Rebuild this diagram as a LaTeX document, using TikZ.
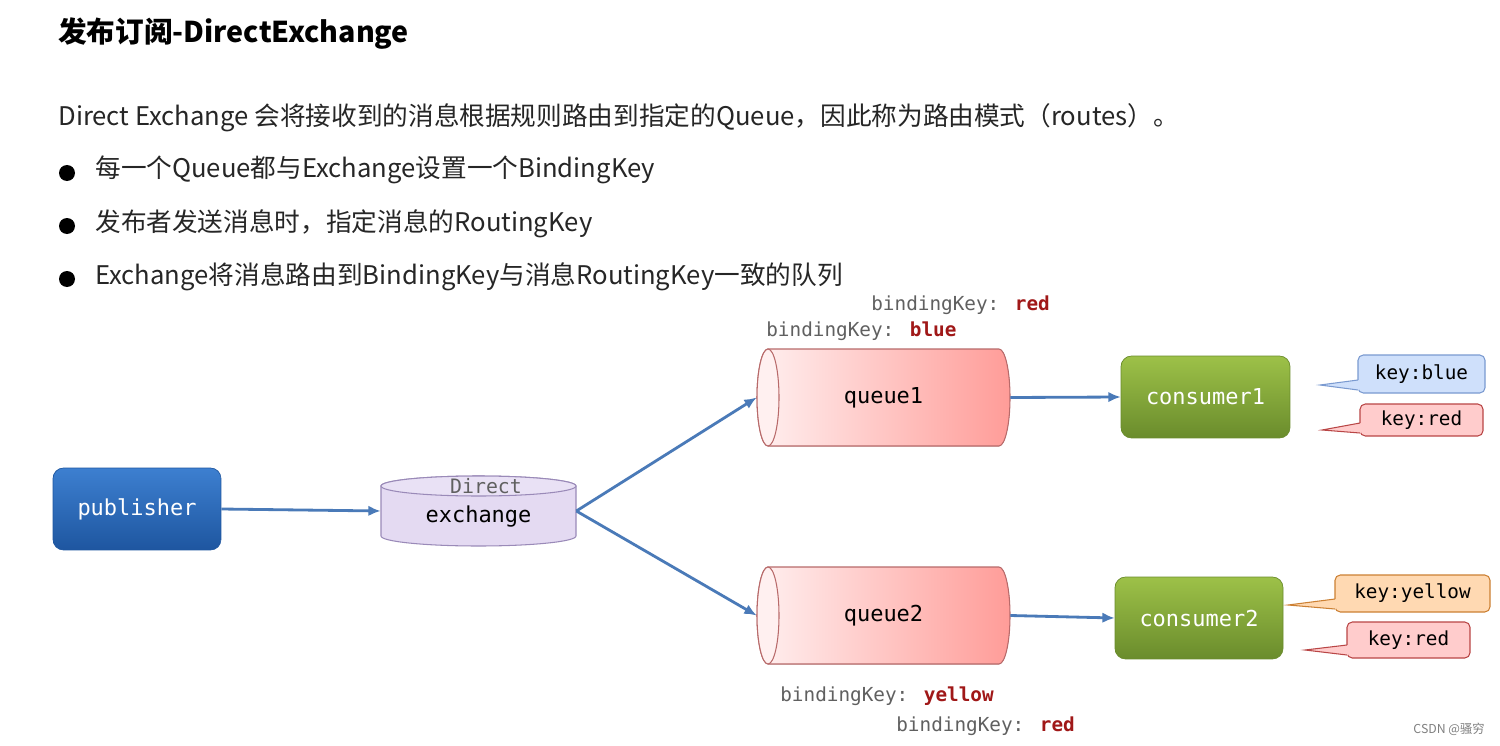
\documentclass[tikz,border=0pt]{standalone}
\usepackage{fontspec}
\setmainfont{Noto Sans CJK SC}
\newfontfamily\monofont{DejaVu Sans Mono}
\usetikzlibrary{arrows.meta}
\definecolor{arrowblue}{HTML}{4A7AB8}
\definecolor{keyred}{HTML}{A01818}
\definecolor{keygray}{HTML}{606060}
\definecolor{pubtop}{HTML}{3D7FD0}
\definecolor{pubbot}{HTML}{1E56A0}
\definecolor{contop}{HTML}{9DC148}
\definecolor{conbot}{HTML}{6A8C2C}
\definecolor{qleft}{HTML}{FFF0F0}
\definecolor{qright}{HTML}{FF9C98}
\definecolor{qdraw}{HTML}{B86A6A}
\definecolor{exfill}{HTML}{E4DAF2}
\definecolor{exdraw}{HTML}{9A8AB8}
\definecolor{kbfill}{HTML}{CFE0FB}
\definecolor{kbdraw}{HTML}{7A9AD0}
\tikzset{
  conn/.style={arrowblue, line width=1.6pt, -{Latex[length=7pt,width=6pt]}},
  box/.style={rounded corners=6pt, font=\monofont\fontsize{12.5}{14}\selectfont, text=white},
  bind/.style={anchor=base west, inner sep=0pt, text=keygray, font=\monofont\fontsize{11}{13}\selectfont},
  callout/.style={rounded corners=3pt, line width=0.6pt},
  bodytext/.style={anchor=base west, inner sep=0pt, font=\fontsize{14.6}{17}\selectfont, text=black!85},
}
\begin{document}
\begin{tikzpicture}[x=0.02cm, y=0.02cm]
\useasboundingbox[fill=white] (0,0) rectangle (1500,745);

% texts
\node[anchor=base west, inner sep=0pt, font=\bfseries\fontsize{16.3}{19}\selectfont] (title) at (58,702) {发布订阅-DirectExchange};
\node[bodytext] (para) at (58,620) {Direct Exchange 会将接收到的消息根据规则路由到指定的Queue，因此称为路由模式（routes）。};
\foreach \yy/\tt [count=\i] in {567/每一个Queue都与Exchange设置一个BindingKey, 514/发布者发送消息时，指定消息的RoutingKey, 461/Exchange将消息路由到BindingKey与消息RoutingKey一致的队列} {
  \fill (67,\yy+5) circle[radius=8];
  \node[bodytext] (b\i) at (95,\yy) {\tt};
}

% publisher
\node[box, minimum width=3.36cm, minimum height=1.64cm, top color=pubtop, bottom color=pubbot, draw=pubbot] (pub) at (137,236) {publisher};

% exchange cylinder
\begin{scope}[draw=exdraw, line width=0.6pt]
\filldraw[fill=exfill] (381,259) -- (381,209) arc[start angle=180, end angle=360, x radius=97.5, y radius=10] -- (576,259) arc[start angle=0, end angle=180, x radius=97.5, y radius=10] -- cycle;
\filldraw[fill=exfill!80] (478.5,259) ellipse[x radius=97.5, y radius=10];
\end{scope}
\node[minimum width=3.9cm, minimum height=1.4cm, inner sep=0pt] (ex) at (478.5,234) {};
\node[font=\monofont\fontsize{11.3}{13}\selectfont, text=keygray, inner sep=0pt] (exdir) at (486,259) {Direct};
\node[font=\monofont\fontsize{12.5}{14}\selectfont, inner sep=0pt] (exname) at (478.5,228) {exchange};

% queues
\foreach \n/\cy in {1/347.5, 2/129.5} {
  \filldraw[left color=qleft, right color=qright, draw=qdraw, line width=0.6pt]
    (768,\cy+48.5) -- (999,\cy+48.5) arc[start angle=90, end angle=-90, x radius=11, y radius=48.5]
    -- (768,\cy-48.5) arc[start angle=270, end angle=90, x radius=11, y radius=48.5] -- cycle;
  \filldraw[fill=qleft, draw=qdraw, line width=0.6pt] (768,\cy) ellipse[x radius=11, y radius=48.5];
  \node[minimum width=5.06cm, minimum height=1.94cm, inner sep=0pt, font=\monofont\fontsize{12.5}{14}\selectfont] (q\n) at (883.5,\cy) {queue\n};
}

% consumers
\node[box, minimum width=3.38cm, minimum height=1.64cm, top color=contop, bottom color=conbot, draw=conbot] (c1) at (1205.5,348) {consumer1};
\node[box, minimum width=3.36cm, minimum height=1.64cm, top color=contop, bottom color=conbot, draw=conbot] (c2) at (1199,127) {consumer2};

% connectors
\draw[conn] (pub.east) -- (ex.west);
\draw[conn] (ex.east) -- (q1.west);
\draw[conn] (ex.east) -- (q2.west);
\draw[conn] (q1.east) -- (c1.west);
\draw[conn] (q2.east) -- (c2.west);

% binding keys
\node[bind] (bk1) at (871,435) {bindingKey: \textbf{\textcolor{keyred}{red}}};
\node[bind] (bk2) at (766,409) {bindingKey: \textbf{\textcolor{keyred}{blue}}};
\node[bind] (bk3) at (780,44) {bindingKey: \textbf{\textcolor{keyred}{yellow}}};
\node[bind] (bk4) at (896,14) {bindingKey: \textbf{\textcolor{keyred}{red}}};

% callouts: x0/y0/x1/y1/tipx/tipy/fill/draw/text
\foreach \xa/\ya/\xb/\yb/\tx/\ty/\fc/\dc/\txt [count=\i] in {
  1358/352/1485/390/1320/360/kbfill/kbdraw/key:blue,
  1360/309/1483/341/1322/315/red!20/red!45!gray/key:red,
  1335/133/1490/170/1288/140/orange!30/orange!60!gray/key:yellow,
  1347/87/1470/123/1305/95/red!20/red!45!gray/key:red} {
  \filldraw[callout, fill=\fc, draw=\dc] (\xa,\ya) rectangle (\xb,\yb);
  \fill[\fc] (\xa+1.5,\ya+3) -- (\tx,\ty) -- (\xa+1.5,\ya+13) -- cycle;
  \draw[\dc, line width=0.6pt] (\xa,\ya+3) -- (\tx,\ty) -- (\xa,\ya+13);
  \node[inner sep=0pt, font=\monofont\fontsize{11}{13}\selectfont] (k\i) at ({(\xa+\xb)/2},{(\ya+\yb)/2}) {\txt};
}

\node[anchor=base east, inner sep=0pt, font=\fontsize{7}{8}\selectfont, text=gray] (wm) at (1485,12) {CSDN @骚穷};
\end{tikzpicture}
\end{document}
